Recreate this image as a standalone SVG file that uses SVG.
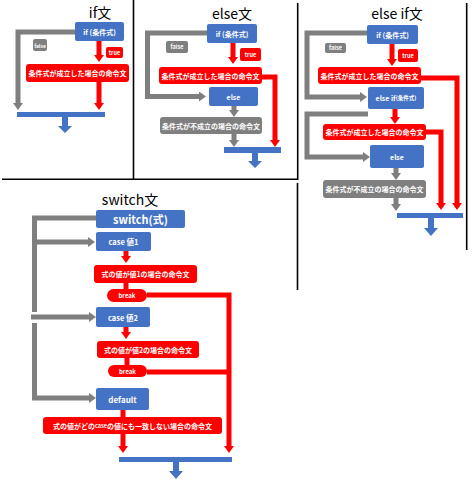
<svg xmlns="http://www.w3.org/2000/svg" width="474" height="479" viewBox="0 0 474 479">
<defs>
<style>
.t{font-family:"Noto Sans CJK JP","Liberation Sans",sans-serif;font-size:14px;fill:#000;text-anchor:middle}
.w{font-family:"Noto Sans CJK JP","Liberation Sans",sans-serif;font-size:7px;font-weight:bold;fill:#fff;text-anchor:middle;dominant-baseline:central}
.b{fill:#4472C4}
.r{fill:#FF0000}
.g{fill:#7F7F7F}
.rl{fill:none;stroke:#FF0000;stroke-width:5}
.gl{fill:none;stroke:#7F7F7F;stroke-width:5}
.fr{stroke:#000;stroke-width:1.6;fill:none}
</style>
<marker id="ar" viewBox="0 0 7 10" markerWidth="1.4" markerHeight="2" refX="2" refY="5" orient="auto" markerUnits="strokeWidth"><path d="M0,0 L7,5 L0,10 z" fill="#FF0000"/></marker>
<marker id="ag" viewBox="0 0 7 10" markerWidth="1.4" markerHeight="2" refX="2" refY="5" orient="auto" markerUnits="strokeWidth"><path d="M0,0 L7,5 L0,10 z" fill="#7F7F7F"/></marker>
</defs>
<rect width="474" height="479" fill="#fff"/>

<g id="frames">
<line class="fr" x1="133.5" y1="0" x2="133.5" y2="179"/>
<line class="fr" x1="2" y1="179.3" x2="298" y2="179.3"/>
<line class="fr" x1="297.7" y1="3" x2="297.7" y2="180"/>
<line class="fr" x1="297.5" y1="183" x2="297.5" y2="290"/>
<line class="fr" x1="466.7" y1="3" x2="466.7" y2="250"/>
</g>

<g id="titles">
<text class="t" x="100" y="18">if文</text>
<text class="t" x="232" y="19">else文</text>
<text class="t" x="397" y="19">else if文</text>
<text class="t" x="130" y="205">switch文</text>
</g>

<g id="connectors">
<!-- if -->
<path class="gl" d="M75 32 H18 V105" marker-end="url(#ag)"/>
<path class="rl" d="M99 41 V57" marker-end="url(#ar)"/>
<path class="rl" d="M99 82 V105" marker-end="url(#ar)"/>
<polygon class="b" points="62,117 68,117 68,126 72,126 65,133 58,126 62,126"/>
<!-- else -->
<path class="gl" d="M207 33 H147.5 V96.5 H201" marker-end="url(#ag)"/>
<path class="rl" d="M233 43 V59" marker-end="url(#ar)"/>
<path class="rl" d="M262 77 H275 V142" marker-end="url(#ar)"/>
<path class="gl" d="M234 106 V112" marker-end="url(#ag)"/>
<path class="gl" d="M234 134 V142" marker-end="url(#ag)"/>
<polygon class="b" points="252,153 258,153 258,161 262,161 255,168 248,161 252,161"/>
<!-- else if -->
<path class="gl" d="M367 33 H307 V97 H362" marker-end="url(#ag)"/>
<path class="gl" d="M368 114 H307 V157 H365" marker-end="url(#ag)"/>
<path class="rl" d="M392 44 V61" marker-end="url(#ar)"/>
<path class="rl" d="M421 78 H457 V205" marker-end="url(#ar)"/>
<path class="rl" d="M395 109 V119" marker-end="url(#ar)"/>
<path class="rl" d="M426 132 H441 V205" marker-end="url(#ar)"/>
<path class="gl" d="M396 168 V175" marker-end="url(#ag)"/>
<path class="gl" d="M396 198 V206" marker-end="url(#ag)"/>
<polygon class="b" points="428,218 434,218 434,228 438,228 431,236 424,228 428,228"/>
<!-- switch -->
<path class="gl" d="M96 218 H34.5 V312"/>
<path class="gl" d="M34.5 242 H90" marker-end="url(#ag)"/>
<path class="gl" d="M31 317 H91" marker-end="url(#ag)"/>
<path class="gl" d="M34.5 323 V398 H91" marker-end="url(#ag)"/>
<path class="rl" d="M126 251 V258" marker-end="url(#ar)"/>
<path class="rl" d="M126 283 V290"/>
<path class="rl" d="M147 295 H229 V448" marker-end="url(#ar)"/>
<path class="rl" d="M126 327 V334" marker-end="url(#ar)"/>
<path class="rl" d="M127 358 V366"/>
<path class="rl" d="M147 372 H229"/>
<path class="rl" d="M123 410 V418"/>
<path class="rl" d="M123 434 V448" marker-end="url(#ar)"/>
<polygon class="b" points="173,462 179,462 179,471 183,471 176,479 169,471 173,471"/>
</g>

<g id="if-panel">
<g id="if-cond"><rect class="b" x="75" y="22" width="49" height="19" rx="2"/><text class="w" x="99.5" y="32">if (条件式)</text></g>
<g id="if-false"><rect class="g" x="33" y="39" width="14" height="12" rx="2"/><text class="w" x="40" y="45" style="font-size:5px">false</text></g>
<g id="if-true"><rect class="r" x="106" y="47" width="17" height="11" rx="2"/><text class="w" x="114.5" y="52.5" style="font-size:5.5px">true</text></g>
<g id="if-then"><rect class="r" x="26" y="64" width="103" height="18" rx="3"/><text class="w" x="77.5" y="73">条件式が成立した場合の命令文</text></g>
<g id="if-end"><rect class="b" x="17" y="112" width="88" height="5"/></g>
</g>

<g id="else-panel">
<g id="else-cond"><rect class="b" x="207" y="24" width="50" height="19" rx="2"/><text class="w" x="232" y="33.5">if (条件式)</text></g>
<g id="else-false"><rect class="g" x="166" y="41" width="22" height="12" rx="2"/><text class="w" x="177" y="47" style="font-size:5.5px">false</text></g>
<g id="else-true"><rect class="r" x="240" y="48" width="21" height="13" rx="2"/><text class="w" x="250.5" y="54.5" style="font-size:5.5px">true</text></g>
<g id="else-then"><rect class="r" x="159" y="67" width="103" height="17" rx="3"/><text class="w" x="210.5" y="75.5">条件式が成立した場合の命令文</text></g>
<g id="else-else"><rect class="b" x="209" y="87" width="49" height="19" rx="2"/><text class="w" x="233.5" y="96.5">else</text></g>
<g id="else-body"><rect class="g" x="160" y="117" width="102" height="17" rx="3"/><text class="w" x="211" y="125.5">条件式が不成立の場合の命令文</text></g>
<g id="else-end"><rect class="b" x="224" y="147" width="57" height="6"/></g>
</g>

<g id="elseif-panel">
<g id="ei-cond"><rect class="b" x="367" y="25" width="51" height="19" rx="2"/><text class="w" x="392.5" y="34.5">if (条件式)</text></g>
<g id="ei-false"><rect class="g" x="325" y="43" width="21" height="10" rx="2"/><text class="w" x="335.5" y="48" style="font-size:5.5px">false</text></g>
<g id="ei-true"><rect class="r" x="398" y="49" width="20" height="13" rx="2"/><text class="w" x="408" y="55.5" style="font-size:5.5px">true</text></g>
<g id="ei-then1"><rect class="r" x="318" y="67" width="103" height="17" rx="3"/><text class="w" x="369.5" y="75.5">条件式が成立した場合の命令文</text></g>
<g id="ei-elseif"><rect class="b" x="368" y="87" width="56" height="22" rx="2"/><text class="w" x="396" y="98">else if<tspan style="font-size:5.5px">(条件式)</tspan></text></g>
<g id="ei-then2"><rect class="r" x="323" y="124" width="103" height="16" rx="3"/><text class="w" x="374.5" y="132">条件式が成立した場合の命令文</text></g>
<g id="ei-else"><rect class="b" x="370" y="145" width="54" height="23" rx="2"/><text class="w" x="397" y="156.5">else</text></g>
<g id="ei-body"><rect class="g" x="323" y="180" width="103" height="18" rx="3"/><text class="w" x="374.5" y="189">条件式が不成立の場合の命令文</text></g>
<g id="ei-end"><rect class="b" x="397" y="213" width="66" height="5"/></g>
</g>

<g id="switch-panel">
<g id="sw-head"><rect class="b" x="96" y="210" width="89" height="18" rx="2"/><text class="w" x="140.5" y="219" style="font-size:11px">switch(式)</text></g>
<g id="sw-case1"><rect class="b" x="96" y="232" width="55" height="19" rx="2"/><text class="w" x="123.5" y="241.5" style="font-size:7.5px">case 値1</text></g>
<g id="sw-body1"><rect class="r" x="94" y="265" width="103" height="18" rx="3"/><text class="w" x="145.5" y="274">式の値が値1の場合の命令文</text></g>
<g id="sw-break1"><rect class="r" x="107" y="289" width="40" height="13" rx="6.5"/><text class="w" x="127" y="295.5" style="font-size:6px">break</text></g>
<g id="sw-case2"><rect class="b" x="96" y="307" width="54" height="20" rx="2"/><text class="w" x="123" y="317" style="font-size:7.5px">case 値2</text></g>
<g id="sw-body2"><rect class="r" x="97" y="341" width="102" height="17" rx="3"/><text class="w" x="148" y="349.5">式の値が値2の場合の命令文</text></g>
<g id="sw-break2"><rect class="r" x="108" y="365" width="39" height="12" rx="6"/><text class="w" x="127.5" y="371" style="font-size:6px">break</text></g>
<g id="sw-default"><rect class="b" x="96" y="388" width="53" height="22" rx="2"/><text class="w" x="122.5" y="399" style="font-size:8px">default</text></g>
<g id="sw-body3"><rect class="r" x="43" y="417" width="179" height="17" rx="3"/><text class="w" x="132.5" y="425.5">式の値がどの<tspan style="font-size:5.5px">case</tspan>の値にも一致しない場合の命令文</text></g>
<g id="sw-end"><rect class="b" x="119" y="457" width="113" height="5"/></g>
</g>
</svg>
